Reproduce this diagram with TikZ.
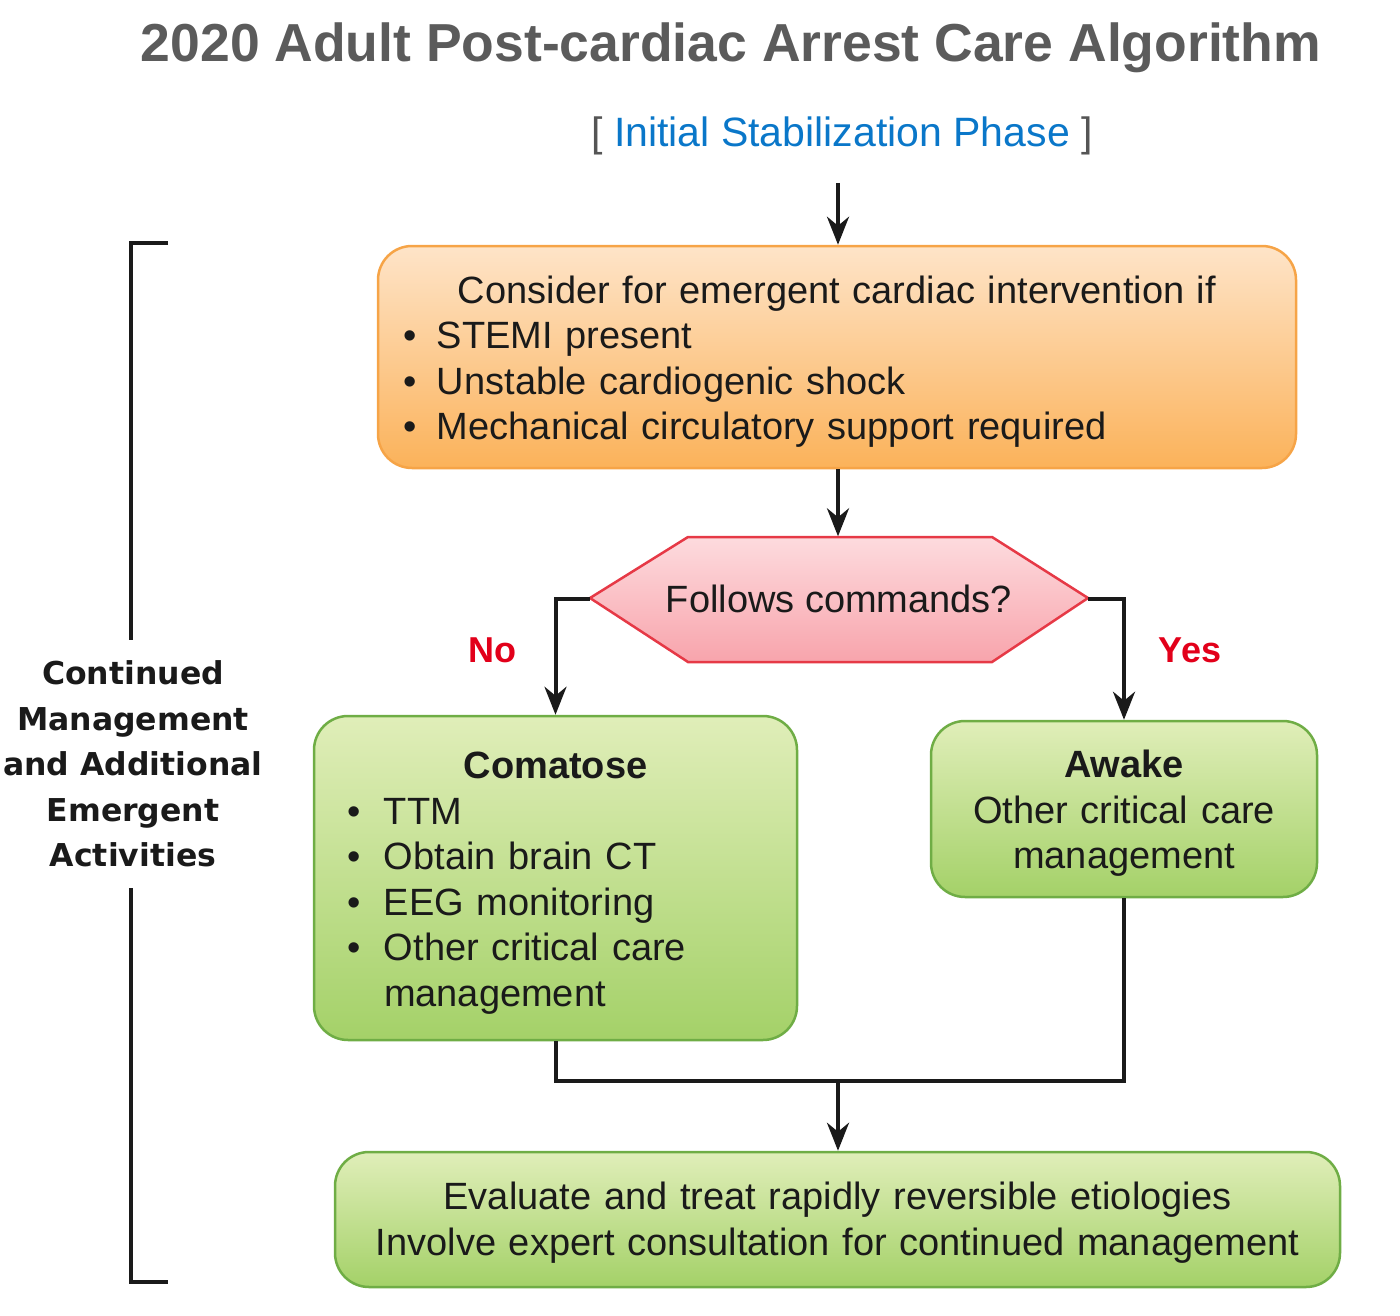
\documentclass[tikz,border=0pt]{standalone}
\usepackage{fontspec}
\setmainfont{Liberation Sans}
\newfontfamily\sidefont{DejaVu Sans}
\usetikzlibrary{arrows.meta}
\definecolor{orangeT}{HTML}{FEE4C8}
\definecolor{orangeBot}{HTML}{FBB25A}
\definecolor{orangeB}{HTML}{F6A447}
\definecolor{pinkT}{HTML}{FDDBDE}
\definecolor{pinkBot}{HTML}{F8A4AC}
\definecolor{pinkB}{HTML}{E63946}
\definecolor{greenT}{HTML}{E0EEB9}
\definecolor{greenBot}{HTML}{A4D168}
\definecolor{greenB}{HTML}{6FAD45}
\definecolor{lblred}{HTML}{E2001A}
\definecolor{phaseblue}{HTML}{0A77C9}
\definecolor{titlegray}{HTML}{5B5B5B}
\definecolor{brgray}{HTML}{555555}
\definecolor{ink}{HTML}{1A1A1A}
\newcommand\blt{\makebox[34pt][l]{\textbullet}}
\newcommand\bltc{\makebox[37pt][l]{\textbullet}}
\newcommand\tstrut{\rule{0pt}{36.5pt}}
\begin{document}
\begin{tikzpicture}[x=1pt,y=-1pt,
  bodyfont/.style={font=\fontsize{38}{45.5}\selectfont},
  box/.style={rounded corners=34pt, line width=2.5pt, inner sep=0pt, bodyfont, text=ink},
  obox/.style={box, draw=orangeB, top color=orangeT, bottom color=orangeBot},
  gbox/.style={box, draw=greenB, top color=greenT, bottom color=greenBot},
  conn/.style={draw=ink, line width=4pt},
  arr/.style={conn, -{Stealth[length=28pt,width=22pt,inset=9pt]}},
  brk/.style={draw=ink, line width=4pt},
  lbl/.style={font=\bfseries\fontsize{36}{40}\selectfont, text=lblred},
]
\useasboundingbox (0,0) rectangle (1400,1316);

% title and phase
\node[anchor=base, font=\bfseries\fontsize{53.5}{60}\selectfont, text=titlegray] (title) at (731,62) {2020 Adult Post-cardiac Arrest Care Algorithm};
\node[anchor=base, font=\fontsize{41}{48}\selectfont] (phase) at (842,147) {{\color{brgray}[} {\color{phaseblue}Initial Stabilization Phase} {\color{brgray}]}};

% boxes
\node[obox, minimum width=918pt, minimum height=222pt, text width=868pt, align=left] (cons) at (837,357)
  {\makebox[\linewidth][c]{\tstrut Consider for emergent cardiac intervention if}\\
   \blt STEMI present\\
   \blt Unstable cardiogenic shock\\
   \blt Mechanical circulatory support required};

\path[draw=pinkB, line width=2.5pt, top color=pinkT, bottom color=pinkBot]
  (590,598) -- (688,537) -- (992,537) -- (1088,598) -- (992,662) -- (688,662) -- cycle;
\node[minimum width=498pt, minimum height=125pt, inner sep=0pt, bodyfont, text=ink] (fc) at (839,599) {Follows commands?};

\node[gbox, minimum width=483pt, minimum height=324pt, text width=417pt, align=left] (coma) at (555.5,878)
  {\makebox[\linewidth][c]{\tstrut\bfseries Comatose}\\
   \bltc TTM\\
   \bltc Obtain brain CT\\
   \bltc EEG monitoring\\
   \bltc Other critical care\\
   \hspace*{37pt}management};

\node[gbox, minimum width=386pt, minimum height=176pt, text width=370pt, align=center] (awake) at (1124,809)
  {\tstrut{\bfseries Awake}\\ Other critical care\\ management};

\node[gbox, minimum width=1005pt, minimum height=135pt, text width=990pt, align=center] (eval) at (837.5,1219.5)
  {\rule{0pt}{34pt}Evaluate and treat rapidly reversible etiologies\\ Involve expert consultation for continued management};

% labels
\node[lbl] (no) at (492,650) {No};
\node[lbl] (yes) at (1190,650) {Yes};

% side label and bracket
\node[font=\sidefont\bfseries\fontsize{31.5}{45.5}\selectfont, align=center, text=ink] (side) at (133,764)
  {Continued\\Management\\and Additional\\Emergent\\Activities};
\draw[brk] (168,243) -- (131,243) -- (131,640);
\draw[brk] (131,888) -- (131,1282) -- (168,1282);

% connectors
\coordinate (start) at (838,183);
\coordinate (merge) at (838,1081);
\draw[arr] (start) -- (start |- cons.north);
\draw[arr] (cons.south -| start) -- (start |- fc.north);
\draw[arr] (fc.west) -| (coma.north);
\draw[arr] (fc.east) -| (awake.north);
\draw[conn] (coma.south) |- (merge) -| (awake.south);
\draw[arr] (merge) -- (eval.north -| merge);
\end{tikzpicture}
\end{document}
